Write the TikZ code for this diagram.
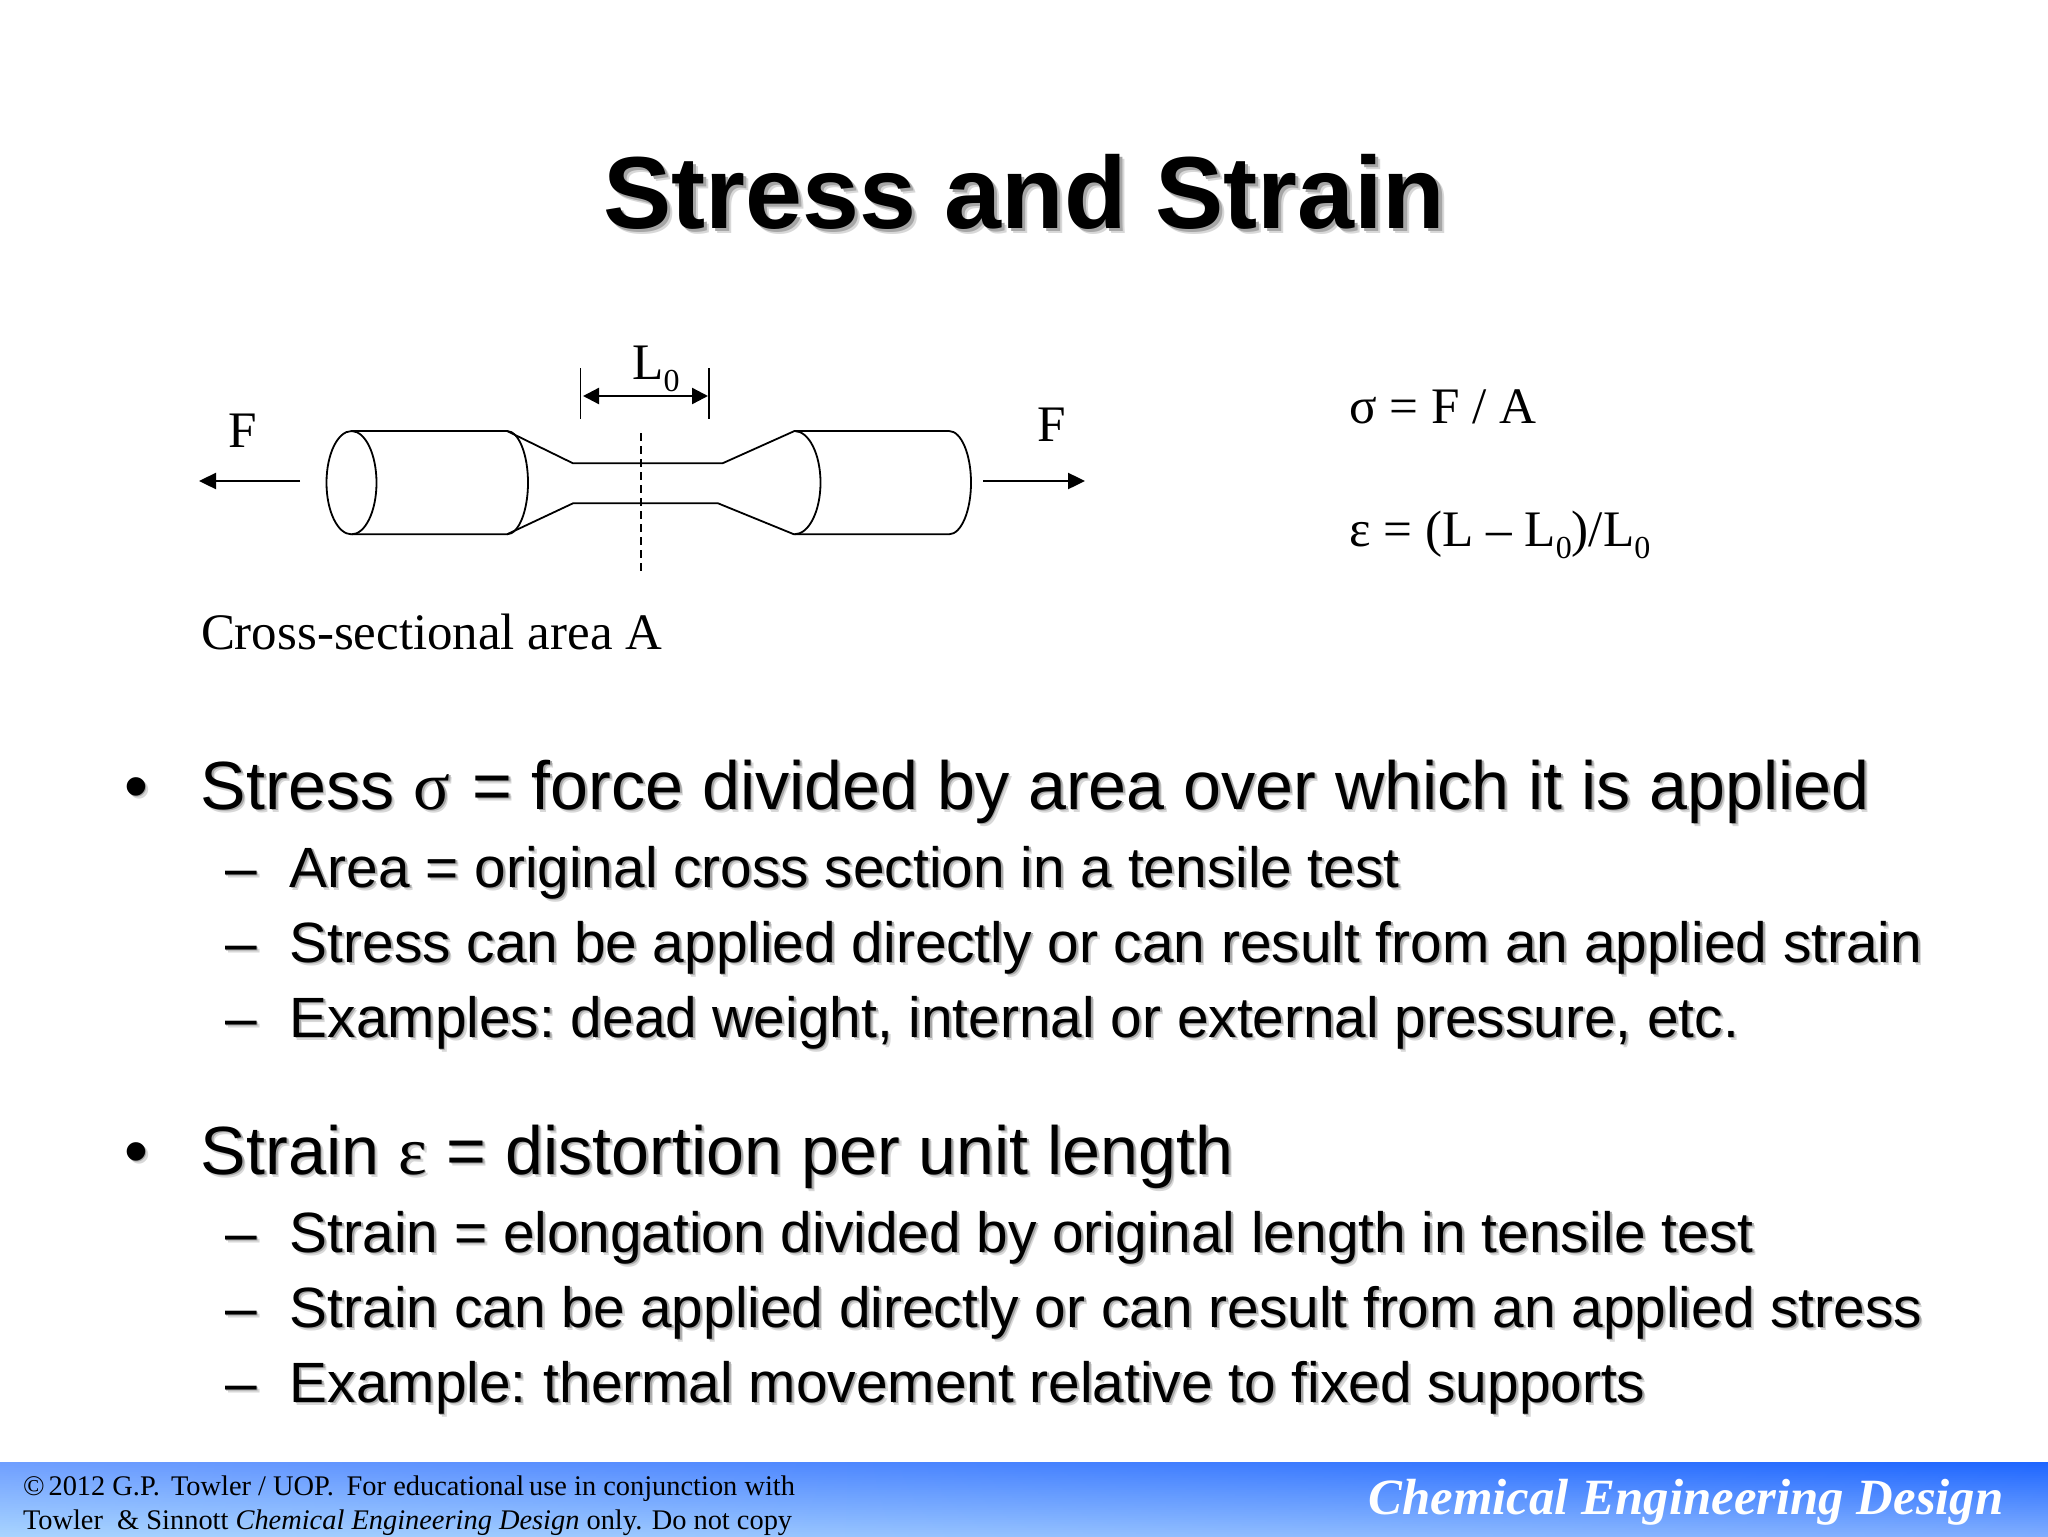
\documentclass[tikz,border=0pt]{standalone}
\usepackage{fontspec}
\usepackage{tikz}
\usetikzlibrary{positioning}
\usetikzlibrary{arrows.meta}
\setmainfont{Liberation Sans}
\newfontfamily\timesfont{Liberation Serif}
\definecolor{shadowlight}{HTML}{D8D8D8}
\definecolor{shadowdark}{HTML}{A6A6A6}
\definecolor{bartopleft}{HTML}{6F9FFF}
\definecolor{barbottomleft}{HTML}{A8D4FF}
\definecolor{bartopright}{HTML}{1E66FF}
\definecolor{barbottomright}{HTML}{80AEFF}
\newcommand\softshadow[2]{\makebox[0pt][l]{\hspace*{#1}\raisebox{-#1}{\color{shadowlight}#2}}\makebox[0pt][l]{\hspace*{\dimexpr#1*6/10\relax}\raisebox{-\dimexpr#1*6/10\relax}{\color{shadowdark}#2}}#2}
\newcommand\subzero{\raisebox{-6pt}{\fontsize{16}{16}\selectfont 0}}
\newcommand\bodyline[2]{\softshadow{1.5pt}{\makebox[#1][l]{\ifdim#1>35pt •\else –\fi}#2}}
\begin{document}
\begin{tikzpicture}[x=0.5pt,y=-0.5pt,node distance=37.5pt,
    main text/.style={inner sep=0,outer sep=0,anchor=base west},
    serif text/.style={main text,font=\timesfont\fontsize{25.6}{25.6}\selectfont},
    first level/.style={main text,font=\fontsize{34.1}{34.1}\selectfont},
    second level/.style={main text,font=\fontsize{28.4}{28.4}\selectfont},
    footer text/.style={main text,font=\timesfont\fontsize{14.2}{14.2}\selectfont},
    specimen/.style={line width=0.9pt,line join=round},
    force arrow/.style={line width=1.2pt,-{Triangle[length=8.5pt,width=8pt]}},
    dim arrow/.style={line width=1.2pt,{Triangle[length=8pt,width=8pt]}-{Triangle[length=8pt,width=8pt]}}]

    \useasboundingbox (0,0) rectangle (2048,1536);

    % footer bar
    \foreach \row in {0,...,37}{
        \pgfmathsetmacro{\stripy}{1462+2*\row}
        \pgfmathsetmacro{\strippct}{100*\row/37}
        \colorlet{stripleft}{barbottomleft!\strippct!bartopleft}
        \colorlet{stripright}{barbottomright!\strippct!bartopright}
        \shade[left color=stripleft,right color=stripright] (0,\stripy) rectangle (2048,\stripy+3);
    }

    % title
    \node[main text][anchor=base,font=\bfseries\fontsize{51.2}{51.2}\selectfont](1) at (1024.5,228){\softshadow{2.6pt}{Stress and Strain}};

    % specimen
    \draw[specimen] (351.5,482.7) ellipse [x radius=25,y radius=51.65];
    \draw[specimen] (351.5,431) -- (507,431) -- (573,463.3) -- (722.5,463.3) -- (794.5,431) -- (949,431)
        arc [start angle=-90,end angle=90,x radius=22,y radius=51.65] -- (794,534.3) -- (718,503.3) -- (573,503.3) -- (507,534.3) -- (351.5,534.3);
    \draw[specimen] (507,431) arc [start angle=-90,end angle=90,x radius=21,y radius=51.65];
    \draw[specimen] (794.5,431) arc [start angle=-90,end angle=90,x radius=26,y radius=51.65];

    \coordinate (2) at (641,433);
    \coordinate (3) at (641,571);
    \coordinate (4) at (580.5,368);
    \coordinate (5) at (580.5,419);
    \coordinate (6) at (709,368);
    \coordinate (7) at (709,419);
    \coordinate (8) at (583,396);
    \coordinate (9) at (708,396);
    \coordinate (10) at (300,481);
    \coordinate (11) at (199,481);
    \coordinate (12) at (983,481);
    \coordinate (13) at (1085,481);

    \path [line width=0.7pt] (2) edge [dash pattern=on 4pt off 2.5pt] (3);
    \path [line width=0.6pt] (4) edge (5);
    \path [line width=0.6pt] (6) edge (7);
    \path (8) edge [dim arrow] (9);
    \path (10) edge [force arrow] (11);
    \path (12) edge [force arrow] (13);

    \node[serif text][anchor=base](14) at (656,379){L\subzero};
    \node[serif text][anchor=base](15) at (243,447){F};
    \node[serif text][anchor=base](16) at (1052,441){F};
    \node[serif text][xscale=0.995](17) at (201,649){Cross-sectional area A};
    \node[serif text](18) at (1349,423){σ = F / A};
    \node[serif text](19)[below=61.5pt of 18.base west,anchor=base west]{ε = (L – L\subzero)/L\subzero};

    % stress
    \node[first level](20) at (124,809){\bodyline{38.5pt}{Stress {\timesfont σ}\hspace{2pt} = force divided by area over which it is applied}};
    \node[second level](21) at (225,887){\bodyline{32.5pt}{Area = original cross section in a tensile test}};
    \node[second level](22)[below=of 21.base west,anchor=base west]{\bodyline{32.5pt}{Stress can be applied directly or can result from an applied strain}};
    \node[second level](23)[below=of 22.base west,anchor=base west]{\bodyline{32.5pt}{Examples:\ dead weight, internal or external pressure, etc.}};

    % strain
    \node[first level](24) at (124,1174){\bodyline{38.5pt}{Strain {\timesfont ε}\hspace{0.6pt} = distortion per unit length}};
    \node[second level](25) at (225,1252){\bodyline{32.5pt}{Strain = elongation divided by original length in tensile test}};
    \node[second level](26)[below=of 25.base west,anchor=base west]{\bodyline{32.5pt}{Strain can be applied directly or can result from an applied stress}};
    \node[second level](27)[below=of 26.base west,anchor=base west]{\bodyline{32.5pt}{Example:\kern0.6pt\ thermal movement relative to fixed supports}};

    % footer text
    \node[footer text](28) at (23,1495){©\hspace{2pt}2012 G.P.\hspace{5.6pt}Towler / UOP.\hspace{6.4pt}For educational\hspace{2.5pt}use in conjunction with};
    \node[footer text](29)[below=17pt of 28.base west,anchor=base west]{Towler\ \ \& Sinnott \textit{Chemical Engineering Design} only. Do not copy};
    \node[main text][anchor=base east,text=white,font=\timesfont\bfseries\itshape\fontsize{25.4}{25.4}\selectfont](30) at (2003.5,1514){Chemical Engineering Design};

\end{tikzpicture}
\end{document}
